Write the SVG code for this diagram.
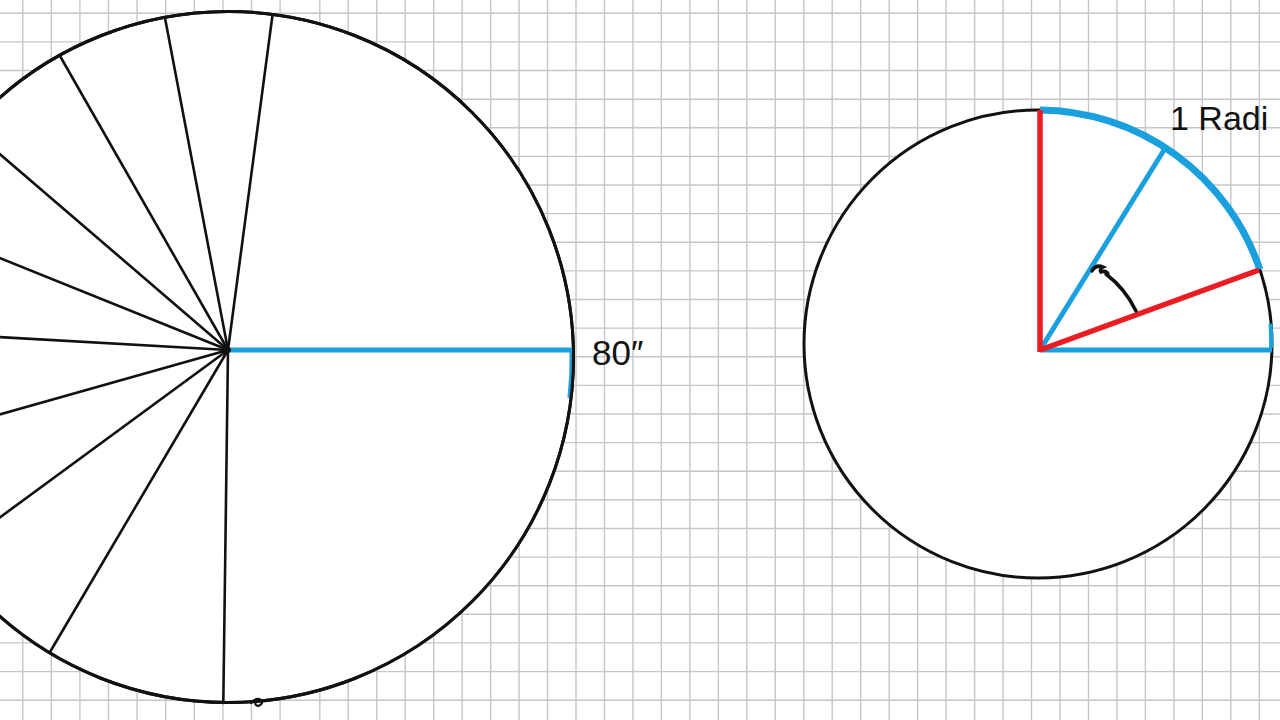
<svg xmlns="http://www.w3.org/2000/svg" width="1280" height="720" viewBox="0 0 1280 720">
<style>
.grid{stroke:#c6c6c6;stroke-width:1.4;fill:none}
.circ{fill:#fff;stroke:#111;stroke-width:3}
.spoke{stroke:#111;stroke-width:2.6;stroke-linecap:round;fill:none}
.blue{stroke:#1aa0df;fill:none;stroke-linecap:butt}
.red{stroke:#ec1c24;fill:none;stroke-linecap:butt}
.lbl{font-family:"Liberation Sans",Arial,sans-serif;fill:#111}
</style>
<rect width="1280" height="720" fill="#fff"/>
<g id="grid" class="grid">
<path d="M0,13.3H1280M0,41.9H1280M0,70.5H1280M0,99.2H1280M0,127.8H1280M0,156.4H1280M0,185H1280M0,213.6H1280M0,242.3H1280M0,270.9H1280M0,299.5H1280M0,328.1H1280M0,356.7H1280M0,385.4H1280M0,414H1280M0,442.6H1280M0,471.2H1280M0,499.8H1280M0,528.5H1280M0,557.1H1280M0,585.7H1280M0,614.3H1280M0,642.9H1280M0,671.6H1280M0,700.2H1280"/>
<path d="M22.7,0V720M51.3,0V720M79.9,0V720M108.5,0V720M137.1,0V720M165.7,0V720M194.3,0V720M222.9,0V720M251.5,0V720M280.1,0V720M319.8,0V720M348.2,0V720M376.7,0V720M405.2,0V720M433.7,0V720M462.1,0V720M490.6,0V720M519.1,0V720M547.5,0V720M576,0V720M604.5,0V720M632.9,0V720M661.4,0V720M689.9,0V720M718.4,0V720M746.8,0V720M775.3,0V720M803.8,0V720M832.2,0V720M860.7,0V720M889.2,0V720M917.6,0V720M946.1,0V720M974.6,0V720M1003.1,0V720M1031.5,0V720M1060,0V720M1088.5,0V720M1116.9,0V720M1145.4,0V720M1173.9,0V720M1202.3,0V720M1230.8,0V720M1259.3,0V720"/>
</g>
<g id="left-circle">
<circle class="circ" cx="228" cy="357" r="345.5"/>
<path class="blue" stroke-width="4" d="M571.6,352 A343.5,343.5 0 0 1 569.4,398"/>
<circle cx="228" cy="357" r="345.5" fill="none" stroke="#111" stroke-width="3"/>
</g>
<g id="left-spokes" class="spoke">
<line x1="228" y1="350" x2="272.5" y2="15"/>
<line x1="228" y1="350" x2="165" y2="18"/>
<line x1="228" y1="350" x2="60" y2="56"/>
<line x1="228" y1="350" x2="-20" y2="137"/>
<line x1="228" y1="350" x2="-20" y2="250"/>
<line x1="228" y1="350" x2="-20" y2="336"/>
<line x1="228" y1="350" x2="-20" y2="420"/>
<line x1="228" y1="350" x2="-20" y2="532"/>
<line x1="228" y1="350" x2="50" y2="652"/>
<line x1="228" y1="350" x2="223.3" y2="703"/>
<path stroke-width="2.2" d="M251,703 q5,-6 10,-3 q3,4 -3,6 q-4,-1 -2,-4"/>
</g>
<g id="left-radius">
<line class="blue" stroke-width="5" x1="230" y1="350" x2="572" y2="350"/>
<circle cx="228" cy="350" r="3" fill="#111"/>
</g>
<g id="label-80">
<text class="lbl" x="592" y="365" font-size="35">80″</text>
</g>
<g id="right-circle">
<circle class="circ" cx="1038" cy="344" r="234" stroke-width="2.6"/>
<path class="blue" stroke-width="7" d="M1040,110 A234,234 0 0 1 1259.8,269.4"/>
<path class="blue" stroke-width="4" d="M1270.5,323.6 A233,233 0 0 1 1271,348"/>
</g>
<g id="right-lines">
<line class="blue" stroke-width="5" x1="1040" y1="350" x2="1272" y2="350"/>
<line class="blue" stroke-width="5" x1="1040" y1="350" x2="1164" y2="150"/>
<line class="red" stroke-width="5.5" x1="1040" y1="352" x2="1040" y2="110"/>
<line class="red" stroke-width="5.5" x1="1040" y1="350" x2="1259" y2="270"/>
</g>
<g id="angle-arc">
<path fill="none" stroke="#111" stroke-width="3.5" stroke-linecap="round" d="M1092,271 q4,-7 11,-4 q-4,2 -2,5 q5,-2 7,2 M1106,274 A102,102 0 0 1 1136,311"/>
</g>
<g id="label-radian">
<text class="lbl" x="1170" y="130" font-size="34">1 Radi</text>
</g>
</svg>
